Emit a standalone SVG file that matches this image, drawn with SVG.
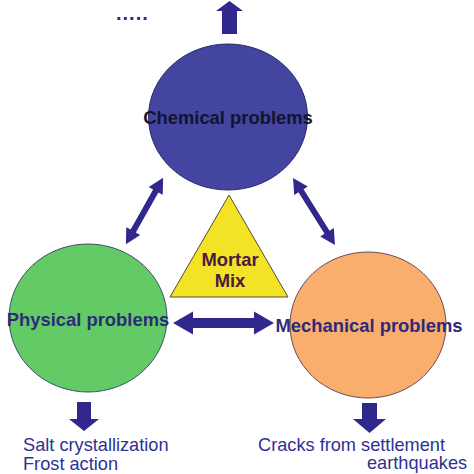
<svg xmlns="http://www.w3.org/2000/svg" width="474" height="474" viewBox="0 0 474 474">
<style>
.lbl{font-family:"Liberation Sans",Arial,sans-serif;font-weight:bold;font-size:18.4px;text-anchor:middle}
.out{font-family:"Liberation Sans",Arial,sans-serif;font-size:18.2px;fill:#2e3192}
.arr{fill:#30288c}
</style>
<rect width="474" height="474" fill="#ffffff"/>
<g id="chemical">
<ellipse cx="228" cy="117" rx="79.5" ry="73" fill="#4345a0" stroke="#2a2a66" stroke-width="1"/>
<text class="lbl" x="228" y="124" fill="#14142e">Chemical problems</text>
</g>
<g id="physical">
<ellipse cx="88" cy="318" rx="79" ry="74" fill="#63ca65" stroke="#3a5068" stroke-width="1"/>
<text class="lbl" x="88" y="326" fill="#2b2d78">Physical problems</text>
</g>
<g id="mechanical">
<ellipse cx="368" cy="325" rx="78" ry="73" fill="#f9ae6d" stroke="#6a4a5a" stroke-width="1"/>
<text class="lbl" x="369" y="332" fill="#2e2a7a">Mechanical problems</text>
</g>
<g id="mortar">
<polygon points="229,195 170,297 288,297" fill="#f2e326" stroke="#5a4a3a" stroke-width="1"/>
<text class="lbl" x="230" y="266" fill="#4a1a3e">Mortar</text>
<text class="lbl" x="230" y="287" fill="#4a1a3e">Mix</text>
</g>
<g id="connectors" class="arr">
<polygon points="229.5,1 243,11 237,11 237,34 222,34 222,11 216,11"/>
<g transform="translate(144.5,211) rotate(119.3)"><polygon points="-38,0 -23,-8 -23,-3 23,-3 23,-8 38,0 23,8 23,3 -23,3 -23,8"/></g>
<g transform="translate(314,211.5) rotate(57.9)"><polygon points="-39.5,0 -24.5,-8 -24.5,-3 24.5,-3 24.5,-8 39.5,0 24.5,8 24.5,3 -24.5,3 -24.5,8"/></g>
<polygon points="173,323 193,311.5 193,318 254,318 254,311.5 274,323 254,334.5 254,328 193,328 193,334.5"/>
<polygon points="77,402 91,402 91,419 99,419 84,431 69,419 77,419"/>
<polygon points="362,403 377,403 377,419 386,419 369.5,433 353,419 362,419"/>
</g>
<g id="texts">
<text x="116" y="20" font-family="Liberation Sans,Arial,sans-serif" font-size="20" font-weight="bold" fill="#2e2a7a" letter-spacing="1">.....</text>
<text class="out" x="23" y="451">Salt crystallization</text>
<text class="out" x="23" y="470">Frost action</text>
<text class="out" x="258" y="451">Cracks from settlement</text>
<text class="out" x="367" y="469">earthquakes</text>
</g>
</svg>
